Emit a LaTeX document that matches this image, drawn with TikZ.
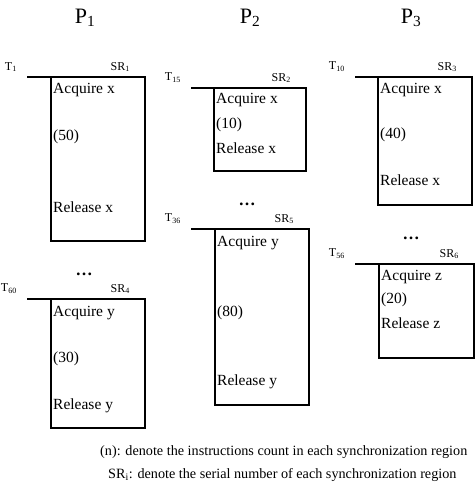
\documentclass[tikz,border=0pt]{standalone}
\usepackage{fontspec}
\setmainfont{Liberation Serif}
\begin{document}
\begin{tikzpicture}[x=1pt,y=-1pt,
  txt/.style={anchor=west,inner sep=0pt,font=\fontsize{15.5}{18}\selectfont},
  lbl/.style={anchor=east,inner sep=0pt,font=\fontsize{12}{14}\selectfont},
  hd/.style={inner sep=0pt,font=\fontsize{22}{26}\selectfont},
  dotsty/.style={inner sep=0pt,font=\bfseries\fontsize{17}{20}\selectfont},
  note/.style={anchor=west,inner sep=0pt,font=\fontsize{14.2}{17}\selectfont}]
\useasboundingbox (0,0) rectangle (474,482);

% processor headers
\node[hd] (p1) at (85,18) {P\textsubscript{1}};
\node[hd] (p2) at (250,18) {P\textsubscript{2}};
\node[hd] (p3) at (411,18) {P\textsubscript{3}};

% regions: line start / box left / box right / top / bottom / T / SR
\foreach \a/\l/\r/\t/\b/\tn/\sr in {27/51/145/77/241/1/1, 191/214/306/88/171/15/2,
  355/378/472/77/205/10/3, 27/51/145/299/428/60/4, 191/215/309/229/405/36/5,
  355/379/474/264/358/56/6}{
\draw[line width=1.2pt] (\a,\t) -- (\r,\t) -- (\r,\b) -- (\l,\b) -- (\l,\t);
\node[lbl] (t\sr) at (\a-10,\t-10) {T\textsubscript{\tn}};
\node[lbl] (sr\sr) at (\r-15,\t-10) {SR\textsubscript{\sr}};
}

% P1
\node[txt] (acq1) at (53,90) {Acquire x};
\node[txt] (cnt1) at (53,137) {(50)};
\node[txt] (rel1) at (53,207) {Release x};
\node[dotsty] (dots1) at (84,274) {\dots};
\node[txt] (acq4) at (53,313) {Acquire y};
\node[txt] (cnt4) at (53,359) {(30)};
\node[txt] (rel4) at (53,406) {Release y};

% P2
\node[txt] (acq2) at (216,100) {Acquire x};
\node[txt] (cnt2) at (216,125) {(10)};
\node[txt] (rel2) at (216,148) {Release x};
\node[dotsty] (dots2) at (247,204) {\dots};
\node[txt] (acq5) at (217,243) {Acquire y};
\node[txt] (cnt5) at (217,313) {(80)};
\node[txt] (rel5) at (217,382) {Release y};

% P3
\node[txt] (acq3) at (380,90) {Acquire x};
\node[txt] (cnt3) at (380,135) {(40)};
\node[txt] (rel3) at (380,180) {Release x};
\node[dotsty] (dots3) at (411,238) {\dots};
\node[txt] (acq6) at (381,277) {Acquire z};
\node[txt] (cnt6) at (381,300) {(20)};
\node[txt] (rel6) at (381,323) {Release z};

% legend
\node[note] (n1) at (100,452) {(n): denote the instructions count in each synchronization region};
\node[note] (n2) at (108,475) {SR\textsubscript{i}: denote the serial number of each synchronization region};
\end{tikzpicture}
\end{document}
